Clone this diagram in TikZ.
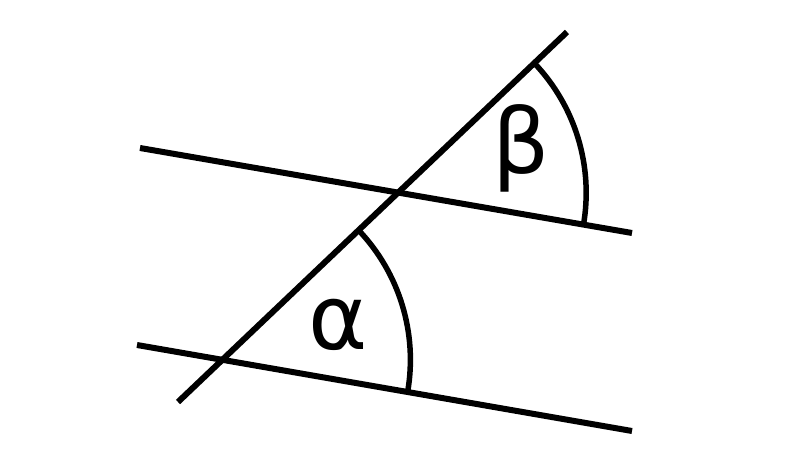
\documentclass[tikz,border=0pt]{standalone}
\usepackage{fontspec}
\setmainfont{DejaVu Sans}
\usetikzlibrary{positioning}

\begin{document}
\begin{tikzpicture}[x=1pt,y=1pt,
	parline/.style={line width=6pt},
	anglearc/.style={line width=5.5pt},
	anglelabel/.style={font=\fontsize{90}{100}\selectfont, inner sep=0pt}]
	\useasboundingbox (0,0) rectangle (788,470);
	
	% Draw the two parallel lines
	\coordinate (upleft) at (140,322);
	\coordinate (upright) at (632,237);
	\coordinate (lowleft) at (137,125);
	\coordinate (lowright) at (632,39);
	\draw[parline] (upleft) -- (upright);
	\draw[parline] (lowleft) -- (lowright);
	
	% Draw the transversal
	\coordinate (transbot) at (178,68);
	\coordinate (transtop) at (567,438);
	\draw[parline] (transbot) -- (transtop);
	
	% Draw the angle arcs
	\coordinate (crossup) at (398.2,277.2);
	\coordinate (crosslow) at (222.4,110.2);
	\draw[anglearc] ([shift={(-9.85:188)}]crosslow) arc (-9.85:43.6:188);
	\draw[anglearc] ([shift={(-9.85:188)}]crossup) arc (-9.85:43.6:188);
	
	% Angle labels
	\node[anglelabel] (alpha) at (338,145) {α};
	\node[anglelabel] (beta) at (521,322) {β};
\end{tikzpicture}
\end{document}
